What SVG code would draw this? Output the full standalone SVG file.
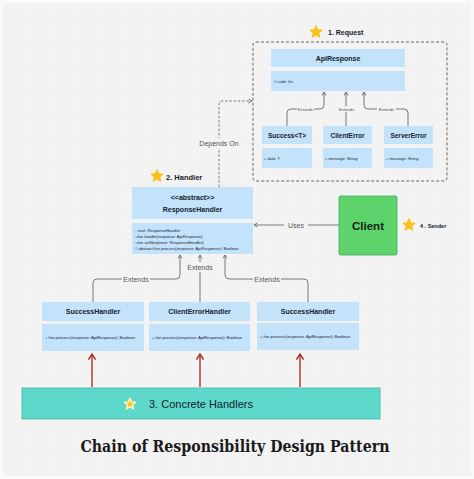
<svg xmlns="http://www.w3.org/2000/svg" width="474" height="479" viewBox="0 0 474 479">
<defs>
<pattern id="grid" width="12" height="12" patternUnits="userSpaceOnUse">
<rect width="12" height="12" fill="#f3f3f3"/>
<path d="M12,0 V12 M0,12 H12" stroke="#ebebeb" stroke-width="0.6" fill="none"/>
</pattern>
<polygon id="star" points="0,-6 1.53,-2.1 5.71,-1.85 2.47,0.8 3.53,4.85 0,2.6 -3.53,4.85 -2.47,0.8 -5.71,-1.85 -1.53,-2.1"/>
<marker id="arr" markerWidth="6" markerHeight="6" refX="4" refY="2.5" orient="auto" markerUnits="userSpaceOnUse">
<path d="M0.5,0.5 L4,2.5 L0.5,4.5" fill="none" stroke="#6a6a6a" stroke-width="0.9"/>
</marker>
<marker id="arrRed" markerWidth="10" markerHeight="8" refX="6" refY="4" orient="auto" markerUnits="userSpaceOnUse">
<path d="M0.5,0.5 L6,4 L0.5,7.5" fill="none" stroke="#a8261c" stroke-width="1.4"/>
</marker>
</defs>
<style>
.box{fill:#c3e3fb;}
.hd{font-family:"Liberation Sans",Arial,sans-serif;font-weight:bold;fill:#17202c;text-anchor:middle;}
.sm{font-family:"Liberation Sans",Arial,sans-serif;fill:#17202c;}
.lbl{font-family:"Liberation Sans",Arial,sans-serif;fill:#555;text-anchor:middle;}
.con{fill:none;stroke:#6a6a6a;stroke-width:0.9;}
.star{fill:#f7c21d;stroke:#f7c21d;stroke-width:1.5;stroke-linejoin:round;}
.lb{fill:#f3f3f3;}
</style>
<rect width="474" height="479" fill="#fafafa"/>
<rect x="3" y="3" width="468" height="473" fill="url(#grid)"/>

<g id="request-group">
<rect x="253" y="42" width="194" height="139" rx="3" fill="none" stroke="#666" stroke-width="1" stroke-dasharray="3,2"/>
<use href="#star" x="316" y="32" class="star"/>
<text x="328" y="35" class="sm" font-size="7" font-weight="bold">1. Request</text>
</g>

<g id="ApiResponse">
<rect class="box" x="271" y="49" width="134" height="18"/>
<text class="hd" x="338" y="60.5" font-size="7">ApiResponse</text>
<rect class="box" x="271" y="71" width="134" height="20"/>
<text class="sm" x="274" y="82.5" font-size="4">#  code: Int</text>
</g>

<g id="Success">
<rect class="box" x="262" y="126" width="50" height="18"/>
<text class="hd" x="287" y="137.5" font-size="6.5">Success&lt;T&gt;</text>
<rect class="box" x="262" y="148" width="50" height="20"/>
<text class="sm" x="264" y="159.5" font-size="4">+ data: T</text>
</g>

<g id="ClientError">
<rect class="box" x="323" y="126" width="49" height="18"/>
<text class="hd" x="347.5" y="137.5" font-size="6.5">ClientError</text>
<rect class="box" x="323" y="148" width="49" height="20"/>
<text class="sm" x="325" y="159.5" font-size="4">+ message: String</text>
</g>

<g id="ServerError">
<rect class="box" x="384" y="126" width="49" height="18"/>
<text class="hd" x="408.5" y="137.5" font-size="6.5">ServerError</text>
<rect class="box" x="384" y="148" width="49" height="20"/>
<text class="sm" x="386" y="159.5" font-size="4">+ message: String</text>
</g>

<g id="handler-label">
<use href="#star" x="157" y="176" class="star"/>
<text x="166" y="179.5" class="sm" font-size="7.5" font-weight="bold">2. Handler</text>
</g>

<g id="ResponseHandler">
<rect class="box" x="132" y="187" width="121" height="32"/>
<text class="hd" x="192.5" y="200" font-size="7">&lt;&lt;abstract&gt;&gt;</text>
<text class="hd" x="192.5" y="211.5" font-size="7">ResponseHandler</text>
<rect class="box" x="132" y="223" width="121" height="31"/>
<text class="sm" x="135" y="231.5" font-size="4.1">- next: ResponseHandler</text>
<text class="sm" x="135" y="237.5" font-size="4.1">+fun handle(response: ApiResponse)</text>
<text class="sm" x="135" y="243.5" font-size="4.1">+fun setNext(next: ResponseHandler)</text>
<text class="sm" x="135" y="249.5" font-size="4.1"># abstract fun process(response: ApiResponse): Boolean</text>
</g>

<g id="Client">
<rect x="339" y="196" width="58" height="59" rx="1.5" fill="#5fd36b" stroke="#43b04f" stroke-width="0.8"/>
<text class="hd" x="368" y="230" font-size="11.5" style="fill:#112614">Client</text>
<use href="#star" x="409" y="225" class="star"/>
<text x="420" y="228" class="sm" font-size="5.5" font-weight="bold">4 . Sender</text>
</g>

<g id="SuccessHandler">
<rect class="box" x="42" y="302" width="102" height="19"/>
<text class="hd" x="93" y="314" font-size="7">SuccessHandler</text>
<rect class="box" x="42" y="324" width="102" height="27"/>
<text class="sm" x="45" y="339" font-size="4.2">+ fun process(response: ApiResponse): Boolean</text>
</g>

<g id="ClientErrorHandler">
<rect class="box" x="149" y="302" width="101" height="19"/>
<text class="hd" x="199.5" y="314" font-size="7">ClientErrorHandler</text>
<rect class="box" x="149" y="324" width="101" height="27"/>
<text class="sm" x="152" y="339" font-size="4.2">+ fun process(response: ApiResponse): Boolean</text>
</g>

<g id="SuccessHandler2">
<rect class="box" x="257" y="302" width="102" height="19"/>
<text class="hd" x="308" y="314" font-size="7">SuccessHandler</text>
<rect class="box" x="257" y="323" width="102" height="27"/>
<text class="sm" x="260" y="338" font-size="4.2">+ fun process(response: ApiResponse): Boolean</text>
</g>

<g id="ConcreteHandlers">
<rect x="22" y="388" width="358" height="31" fill="#5dd8cb" stroke="#3fb3a7" stroke-width="0.8"/>
<use href="#star" x="130" y="404" class="star" style="stroke:#fff3b0;fill:#f7c21d"/>
<text x="149" y="408" class="sm" font-size="11">3. Concrete Handlers</text>
</g>

<g id="connectors">
<path class="con" d="M287,126 V113 Q287,109 291,109 H320 Q324,109 324,105 V92" marker-end="url(#arr)"/>
<path class="con" d="M346,126 V92" marker-end="url(#arr)"/>
<path class="con" d="M408,126 V113 Q408,109 404,109 H368 Q364,109 364,105 V92" marker-end="url(#arr)"/>
<rect class="lb" x="297" y="106" width="17" height="6"/>
<text class="lbl" x="305.5" y="110.5" font-size="4.3">Extends</text>
<rect class="lb" x="338" y="106" width="17" height="6"/>
<text class="lbl" x="346.5" y="110.5" font-size="4.3">Extends</text>
<rect class="lb" x="377" y="106" width="19" height="6"/>
<text class="lbl" x="386.5" y="110.5" font-size="4.3">Extends</text>

<path class="con" d="M219,187 V105 Q219,101 223,101 H252" stroke-dasharray="2.5,1.8" marker-end="url(#arr)"/>
<rect class="lb" x="198" y="138" width="42" height="10"/>
<text class="lbl" x="219" y="145.5" font-size="7">Depends On</text>

<path class="con" d="M339,225 H254" marker-end="url(#arr)"/>
<rect class="lb" x="284" y="220" width="24" height="10"/>
<text class="lbl" x="296" y="227.5" font-size="7">Uses</text>

<path class="con" d="M93,302 V283 Q93,279 97,279 H176 Q180,279 180,275 V255" marker-end="url(#arr)"/>
<path class="con" d="M200,302 V255" marker-end="url(#arr)"/>
<path class="con" d="M308,302 V283 Q308,279 304,279 H229 Q225,279 225,275 V255" marker-end="url(#arr)"/>
<rect class="lb" x="122" y="274" width="28" height="10"/>
<text class="lbl" x="136" y="281.5" font-size="7">Extends</text>
<rect class="lb" x="186" y="262" width="28" height="10"/>
<text class="lbl" x="200" y="269.5" font-size="7">Extends</text>
<rect class="lb" x="253" y="274" width="28" height="10"/>
<text class="lbl" x="267" y="281.5" font-size="7">Extends</text>

<path d="M92,387 V354" fill="none" stroke="#a8261c" stroke-width="1.3" marker-end="url(#arrRed)"/>
<path d="M200,387 V354" fill="none" stroke="#a8261c" stroke-width="1.3" marker-end="url(#arrRed)"/>
<path d="M300,387 V354" fill="none" stroke="#a8261c" stroke-width="1.3" marker-end="url(#arrRed)"/>
</g>

<text x="235" y="452" font-family="'DejaVu Serif','Liberation Serif',serif" font-weight="bold" font-size="16" fill="#1a1a1a" text-anchor="middle" textLength="309" lengthAdjust="spacingAndGlyphs">Chain of Responsibility Design Pattern</text>
</svg>
